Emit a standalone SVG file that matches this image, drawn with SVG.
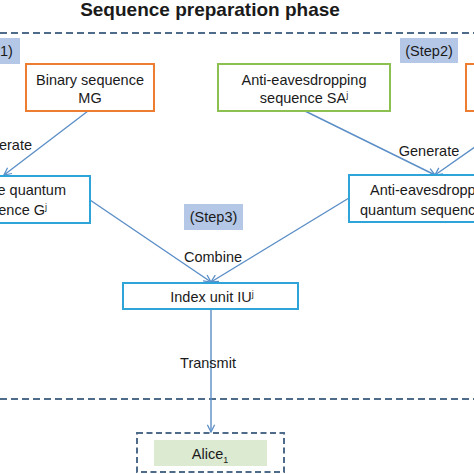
<svg xmlns="http://www.w3.org/2000/svg" width="474" height="474" viewBox="0 0 474 474">
<defs>
<style>
.t{font-family:"Liberation Sans",Arial,sans-serif;font-size:14.5px;fill:#1a1a1a}
.c{text-anchor:middle}
.sup{font-size:9px}
.dash{fill:none;stroke:#4f6b8a;stroke-width:2;stroke-dasharray:7 4}
.step{fill:#b4c7e7}
.or{fill:#fff;stroke:#ed7d31;stroke-width:2}
.gr{fill:#fff;stroke:#8cc152;stroke-width:2}
.bl{fill:#fff;stroke:#2ea4d8;stroke-width:2}
.con{fill:none;stroke:#5b8ec7;stroke-width:1.4;marker-end:url(#ah)}
</style>
<marker id="ah" viewBox="0 0 10 10" refX="9" refY="5" markerWidth="9" markerHeight="9" markerUnits="userSpaceOnUse" orient="auto">
<path d="M1,1 L9,5 L1,9" fill="none" stroke="#5b8ec7" stroke-width="1.4"/>
</marker>
</defs>
<rect width="474" height="474" fill="#fff"/>
<text x="210" y="16" class="t c" style="font-size:19px;font-weight:bold">Sequence preparation phase</text>
<line x1="0" y1="33" x2="474" y2="33" class="dash"/>
<line x1="0" y1="399" x2="474" y2="399" class="dash"/>

<g id="connectors">
<line x1="88" y1="111" x2="4" y2="175" class="con"/>
<line x1="305" y1="111" x2="435" y2="175" class="con"/>
<line x1="526" y1="111" x2="435" y2="175" class="con"/>
<line x1="90" y1="200" x2="211" y2="282" class="con"/>
<line x1="349" y1="198" x2="211" y2="282" class="con"/>
<line x1="211" y1="309" x2="211" y2="432" class="con"/>
</g>

<g id="step1"><rect x="-40" y="38" width="60" height="26" class="step"/><text x="-11" y="56" class="t c">(Step1)</text></g>
<g id="step2"><rect x="400" y="38" width="58" height="25" class="step"/><text x="429" y="56" class="t c">(Step2)</text></g>
<g id="step3"><rect x="184" y="204" width="59" height="26" class="step"/><text x="213.5" y="222" class="t c">(Step3)</text></g>

<g id="mg"><rect x="26" y="64" width="128" height="47" class="or"/>
<text x="90" y="85" class="t c">Binary sequence</text><text x="90" y="103" class="t c">MG</text></g>
<g id="sa"><rect x="218" y="64" width="172" height="47" class="gr"/>
<text x="304" y="85" class="t c">Anti-eavesdropping</text><text x="304" y="103" class="t c">sequence SA<tspan class="sup" dy="-5">j</tspan></text></g>
<g id="orright"><rect x="466" y="64" width="60" height="47" class="or"/></g>

<g id="gq"><rect x="-70" y="176" width="160" height="47" class="bl"/>
<text x="66" y="195" class="t" text-anchor="end">e quantum</text><text x="47" y="215" class="t" text-anchor="end">ence G<tspan class="sup" dy="-5">j</tspan></text></g>
<g id="aq"><rect x="349" y="175" width="170" height="47" class="bl"/>
<text x="370" y="195" class="t">Anti-eavesdropping</text><text x="360" y="215" class="t">quantum sequence</text></g>

<text x="32" y="150" class="t" text-anchor="end">Generate</text>
<text x="429" y="156" class="t c">Generate</text>
<text x="213" y="262" class="t c">Combine</text>
<text x="208" y="368" class="t c">Transmit</text>

<g id="iu"><rect x="123" y="283" width="175" height="26" class="bl"/>
<text x="212" y="302" class="t c">Index unit IU<tspan class="sup" dy="-5">j</tspan></text></g>

<g id="alice"><rect x="137" y="433" width="147" height="39" fill="none" stroke="#4f6b8a" stroke-width="2" stroke-dasharray="6 3.5"/>
<rect x="154" y="440" width="113" height="26" fill="#dcead2"/>
<text x="210" y="459" class="t c">Alice<tspan font-size="9px" dy="4">1</tspan></text></g>
</svg>
